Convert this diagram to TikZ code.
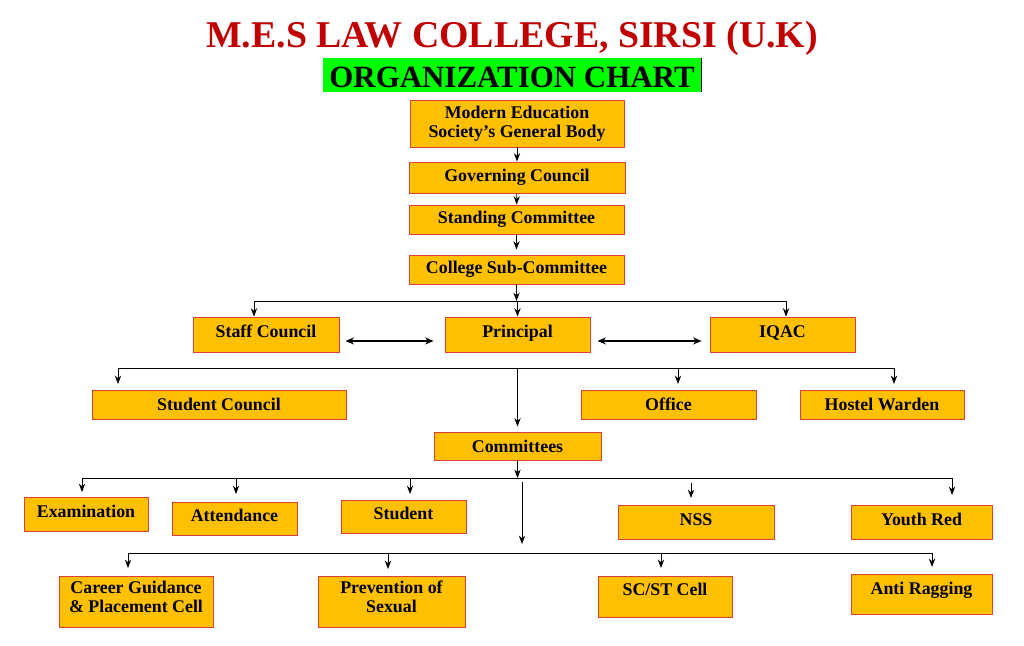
\documentclass[tikz,border=0pt]{standalone}
\usepackage{fontspec}
\setmainfont{Liberation Serif}
\usetikzlibrary{arrows.meta}

\definecolor{boxfill}{HTML}{FFC000}
\definecolor{boxline}{HTML}{E0403A}
\definecolor{titlered}{HTML}{C00000}

\tikzset{
    box/.style={draw=boxline, line width=0.6pt, fill=boxfill, inner sep=0pt, align=center,
        font=\fontsize{12.7}{13.5}\selectfont\bfseries},
    lift/.style={text depth=#1},
    arr/.style={-{Stealth[length=6pt,width=4.5pt]}, line width=0.6pt},
    dbl/.style={{Stealth[length=6pt,width=5pt]}-{Stealth[length=6pt,width=5pt]}, line width=1.2pt},
}

\begin{document}
\begin{tikzpicture}[x=0.025cm, y=-0.025cm]
        \useasboundingbox (0,0) rectangle (1024,645);

        % Title
        \node[anchor=base, text=titlered, font=\fontsize{26.9}{30}\selectfont\bfseries] (title) at (512,47) {M.E.S LAW COLLEGE, SIRSI (U.K)};
        \node[anchor=base, fill=green, inner xsep=4.5pt, inner ysep=0pt, text height=20.6pt, text depth=3.6pt,
            font=\fontsize{22}{24}\selectfont\bfseries] (chart) at (512,87) {ORGANIZATION CHART};
        \draw[line width=0.8pt] (chart.north east) -- (chart.south east);

        % Management chain
        \node[box, minimum width=5.35cm, minimum height=1.175cm] (meb) at (517,123.5) {Modern Education\\Society’s General Body};
        \node[box, minimum width=5.4cm, minimum height=0.775cm] (gov) at (517,177.5) {Governing Council};
        \node[box, minimum width=5.375cm, minimum height=0.725cm] (stand) at (516.5,219.5) {Standing Committee};
        \node[box, minimum width=5.375cm, minimum height=0.725cm] (csc) at (516.5,269.5) {College Sub-Committee};
        \draw[arr] (meb) -- (gov);
        \draw[arr] (gov) -- (stand);
        \draw[arr] (stand.south) -- ([yshift=3.6pt]csc.north);

        % Principal level
        \node[box, lift=4.3pt, minimum width=3.65cm, minimum height=0.875cm] (staff) at (266,334.5) {Staff Council};
        \node[box, lift=4.3pt, minimum width=3.625cm, minimum height=0.875cm] (prin) at (517.5,334.5) {Principal};
        \node[box, lift=4.3pt, minimum width=3.625cm, minimum height=0.875cm] (iqac) at (782.5,334.5) {IQAC};
        \coordinate (b1w) at (254,301);
        \coordinate (b1e) at (786,301);
        \draw[line width=0.7pt] (b1w) -- (b1e);
        \draw[arr] (csc) -- (csc |- b1w);
        \draw[arr] (b1w) -- (b1w |- staff.north);
        \draw[arr] (prin |- b1w) -- (prin);
        \draw[arr] (b1e) -- (b1e |- iqac.north);
        \draw[dbl] ([xshift=4.3pt,yshift=-4.6pt]staff.east) -- ([xshift=-7.8pt,yshift=-4.6pt]prin.west);
        \draw[dbl] ([xshift=5pt,yshift=-4.6pt]prin.east) -- ([xshift=-5.7pt,yshift=-4.6pt]iqac.west);

        % Under the principal
        \node[box, minimum width=6.35cm, minimum height=0.725cm] (stuc) at (219,404.5) {Student Council};
        \node[box, minimum width=4.375cm, minimum height=0.725cm] (office) at (668.5,404.5) {Office};
        \node[box, minimum width=4.1cm, minimum height=0.725cm] (hostel) at (882,404.5) {Hostel Warden};
        \node[box, minimum width=4.175cm, minimum height=0.7cm] (comm) at (517.5,446) {Committees};
        \coordinate (b2w) at (118,368);
        \coordinate (b2e) at (894,368);
        \draw[line width=0.7pt] (b2w) -- (b2e);
        \draw[arr] (b2w) -- ++(0,16);
        \draw[arr] (678,368) -- ++(0,16);
        \draw[arr] (b2e) -- ++(0,16);
        \draw[arr] (comm.north |- b2w) -- ([yshift=3.6pt]comm.north);

        % Committees
        \node[box, lift=3.3pt, minimum width=3.1cm, minimum height=0.85cm] (exam) at (86,514) {Examination};
        \node[box, lift=5pt, minimum width=3.125cm, minimum height=0.825cm] (att) at (234.5,518.5) {Attendance};
        \node[box, lift=4.5pt, minimum width=3.125cm, minimum height=0.825cm] (stud) at (403.5,516.5) {Student};
        \node[box, lift=3pt, minimum width=3.9cm, minimum height=0.85cm] (nss) at (696,522) {NSS};
        \node[box, lift=3.8pt, minimum width=3.525cm, minimum height=0.85cm] (youth) at (921.5,522) {Youth Red};
        \coordinate (b3w) at (82,478);
        \coordinate (b3e) at (952,478);
        \draw[line width=0.7pt] (b3w) -- (b3e);
        \draw[arr] (comm) -- (comm |- b3w);
        \draw[arr] (b3w) -- ++(0,14);
        \draw[arr] (236,478) -- ++(0,16);
        \draw[arr] (410,478) -- ++(0,16);
        \draw[arr] (691,483) -- ++(0,15);
        \draw[arr] (b3e) -- ++(0,17);

        % Cells
        \node[box, lift=7pt, minimum width=3.85cm, minimum height=1.275cm] (career) at (136,601.5) {Career Guidance\\\& Placement Cell};
        \node[box, lift=7pt, minimum width=3.675cm, minimum height=1.275cm] (prev) at (391.5,601.5) {Prevention of\\Sexual};
        \node[box, lift=10pt, minimum width=3.35cm, minimum height=1.025cm] (scst) at (665,596.5) {SC/ST Cell};
        \node[box, lift=8pt, minimum width=3.525cm, minimum height=1cm] (anti) at (921.5,594) {Anti Ragging};
        \coordinate (b4w) at (128,553);
        \coordinate (b4e) at (932,553);
        \draw[arr] (522,482) -- (522,544);
        \draw[line width=0.7pt] (b4w) -- (b4e);
        \draw[arr] (b4w) -- ++(0,15);
        \draw[arr] (388,553) -- ++(0,16);
        \draw[arr] (661,553) -- ++(0,15);
        \draw[arr] (b4e) -- ++(0,14);
    \end{tikzpicture}
\end{document}
